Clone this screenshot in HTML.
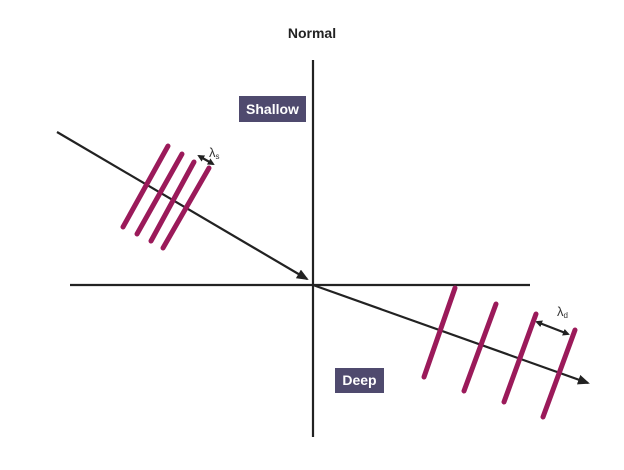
<!DOCTYPE html>
<html><head><style>
body{margin:0;width:624px;height:470px;background:#fff;overflow:hidden;font-family:"Liberation Sans",sans-serif}
.lbl{position:absolute;background:#4f4a6e;color:#fff;font-weight:bold;font-size:14px;text-align:center}
</style></head><body>
<svg width="624" height="470" style="position:absolute;left:0;top:0">
<defs><marker id="a" markerWidth="12" markerHeight="10" refX="10" refY="5" orient="auto" markerUnits="userSpaceOnUse"><path d="M0,0 L12,5 L0,10 z" fill="#222"/></marker>
<marker id="b" markerWidth="7" markerHeight="7" refX="5" refY="3.5" orient="auto-start-reverse" markerUnits="userSpaceOnUse"><path d="M0,0 L7,3.5 L0,7 z" fill="#222"/></marker></defs>
<g stroke="#222" stroke-width="2.2" fill="none">
<line x1="313" y1="60" x2="313" y2="437"/>
<line x1="70" y1="285" x2="530" y2="285"/>
<line x1="57" y1="132" x2="307" y2="279" marker-end="url(#a)"/>
<line x1="313" y1="285" x2="588" y2="383" marker-end="url(#a)"/>
<line x1="199" y1="156" x2="213" y2="164" marker-start="url(#b)" marker-end="url(#b)"/>
<line x1="537" y1="322" x2="568" y2="334" marker-start="url(#b)" marker-end="url(#b)"/>
</g>
<g stroke="#9b1a5a" stroke-width="5" stroke-linecap="round">
<line x1="168" y1="146" x2="123" y2="227"/>
<line x1="182" y1="154" x2="137" y2="234"/>
<line x1="194" y1="162" x2="151" y2="241"/>
<line x1="209" y1="168" x2="163" y2="248"/>
<line x1="455" y1="288" x2="424" y2="377"/>
<line x1="496" y1="304" x2="464" y2="391"/>
<line x1="536" y1="314" x2="504" y2="402"/>
<line x1="575" y1="330" x2="543" y2="417"/>
</g>
<text x="312" y="38" text-anchor="middle" font-size="14" font-weight="bold" fill="#222" font-family="Liberation Sans">Normal</text>
<text x="209" y="157" font-size="13" fill="#333" font-family="Liberation Sans">λ<tspan font-size="8" dy="2">s</tspan></text>
<text x="557" y="316" font-size="13" fill="#333" font-family="Liberation Sans">λ<tspan font-size="8" dy="2">d</tspan></text>
</svg>
<div class="lbl" style="left:239px;top:96px;width:67px;height:26px;line-height:26px">Shallow</div>
<div class="lbl" style="left:335px;top:368px;width:49px;height:25px;line-height:25px">Deep</div>
</body></html>
